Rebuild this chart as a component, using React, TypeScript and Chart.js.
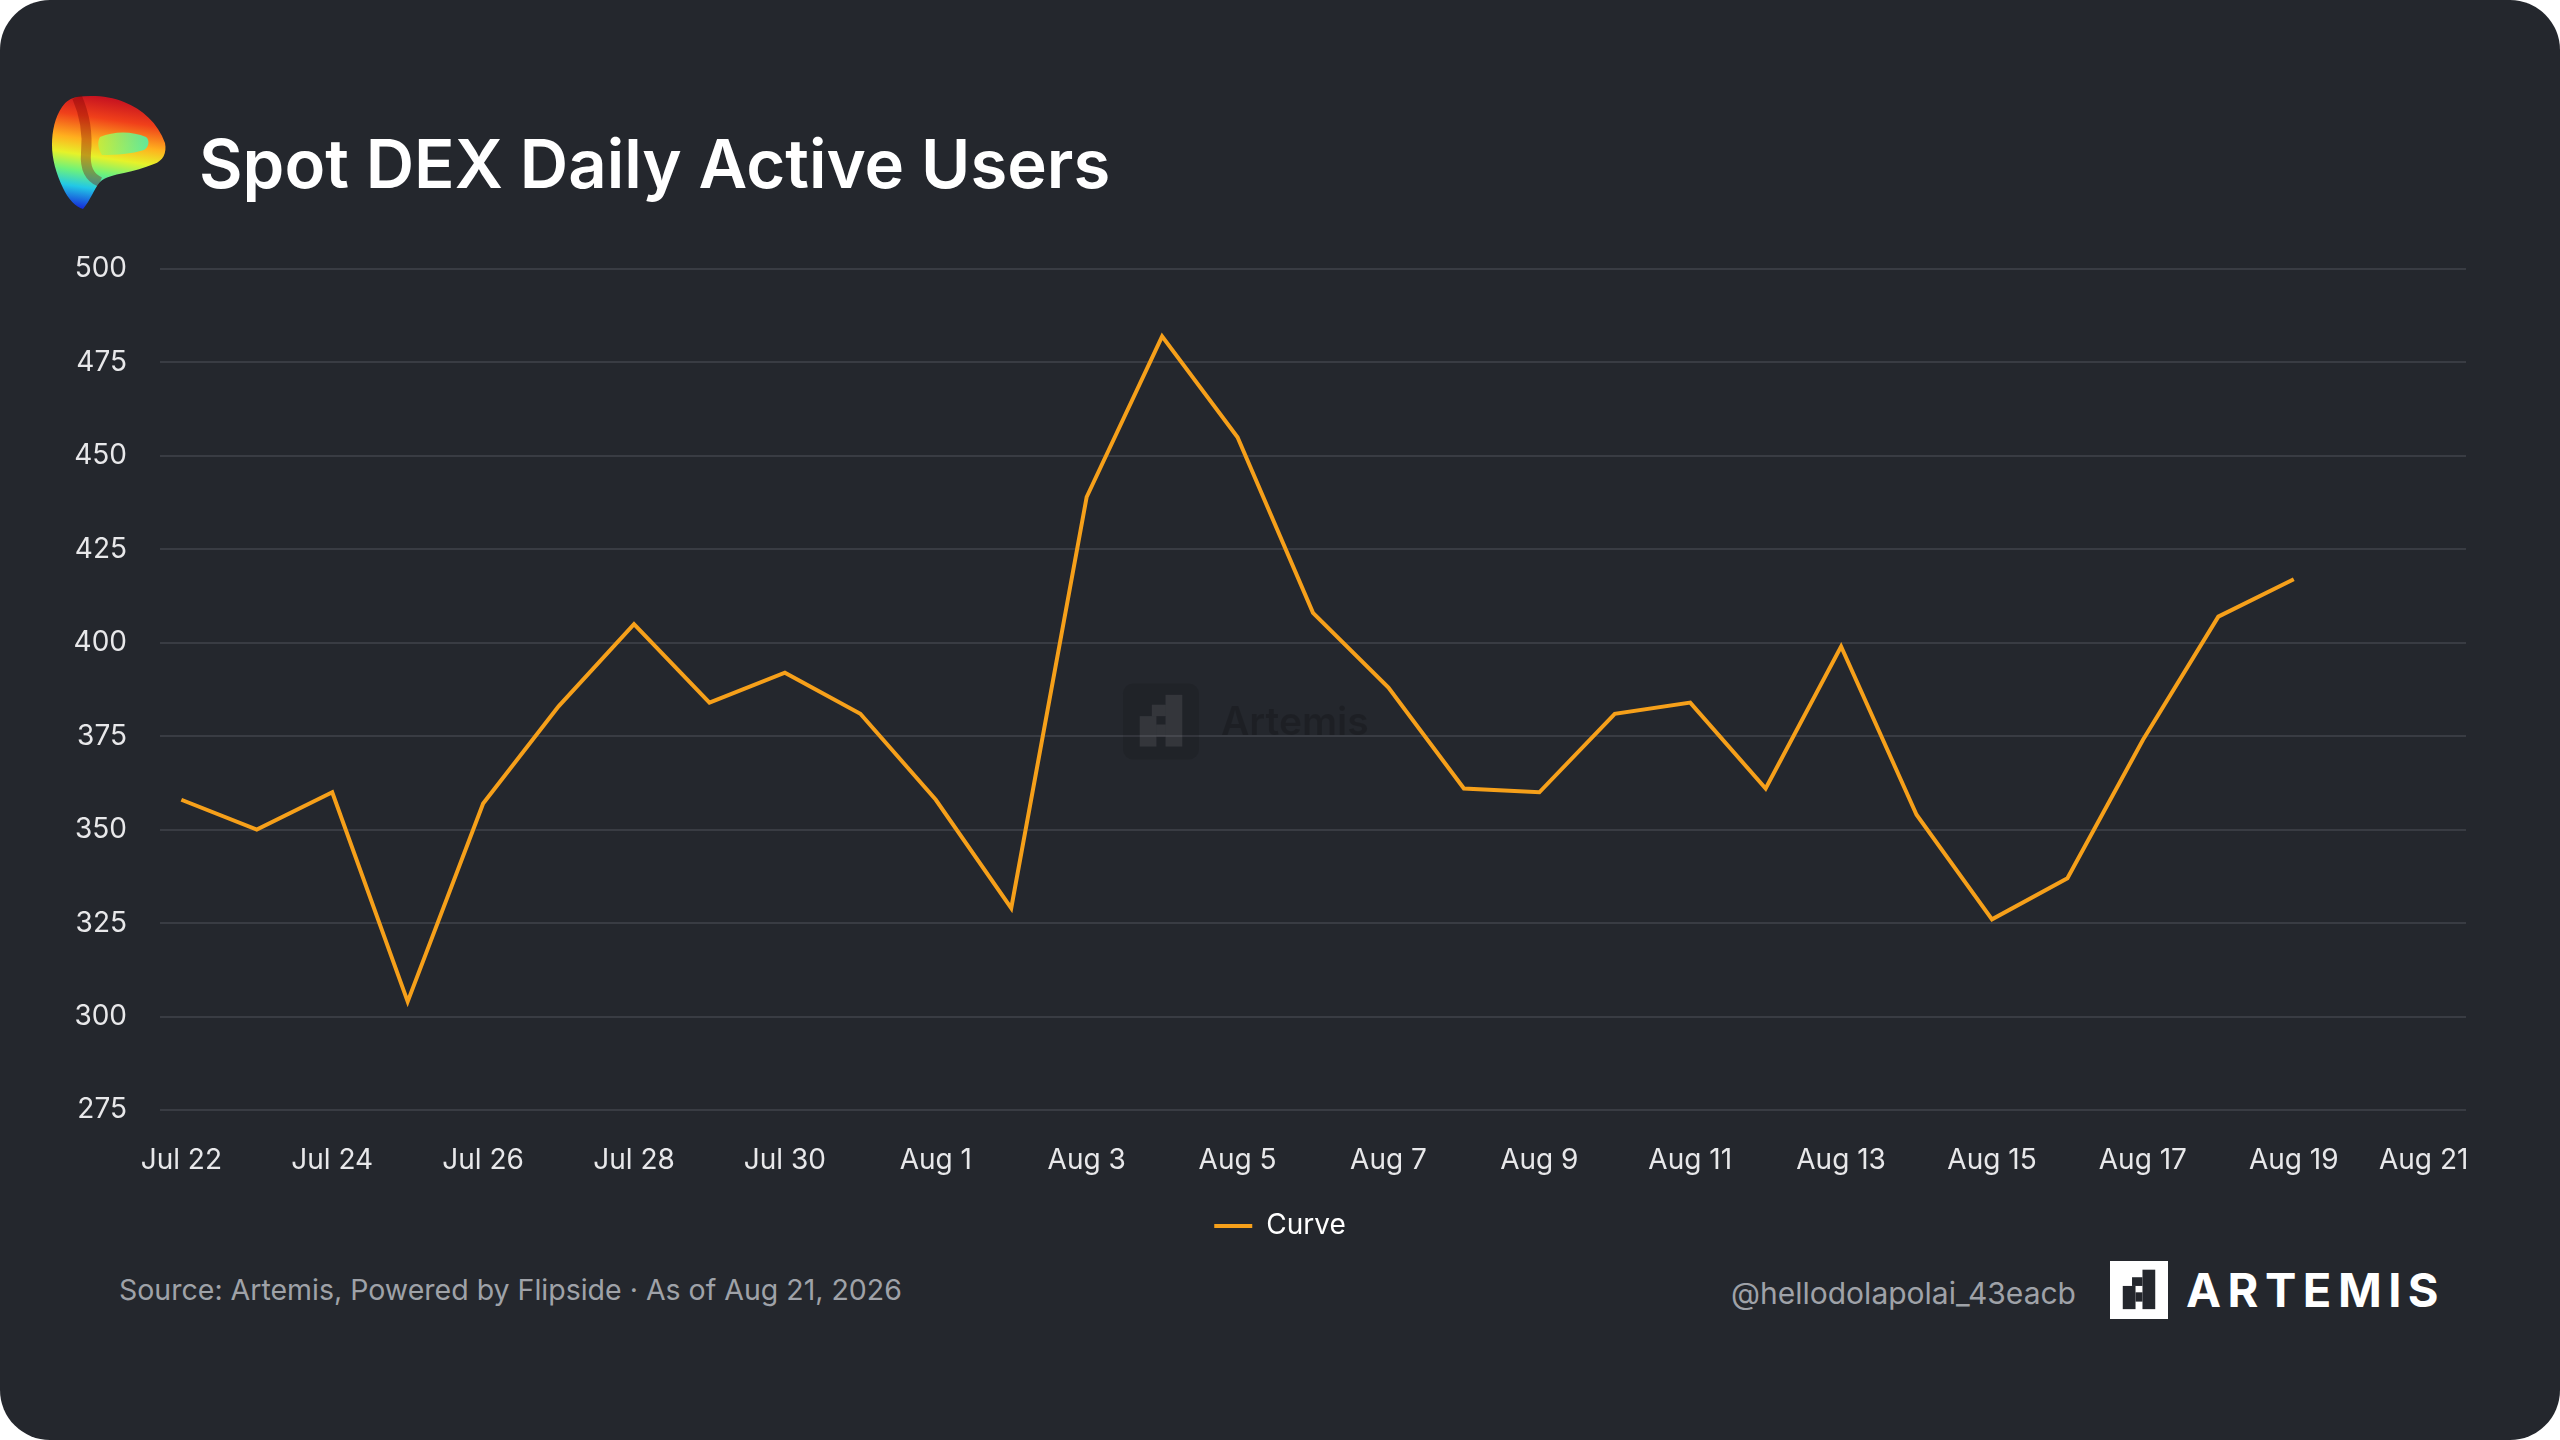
import React, { useEffect, useRef } from 'react';
import { Chart, registerables } from 'chart.js';

Chart.register(...registerables);

// ---- data ----
const dayLabels = [
  'Jul 22', 'Jul 23', 'Jul 24', 'Jul 25', 'Jul 26', 'Jul 27', 'Jul 28', 'Jul 29', 'Jul 30', 'Jul 31',
  'Aug 1', 'Aug 2', 'Aug 3', 'Aug 4', 'Aug 5', 'Aug 6', 'Aug 7', 'Aug 8', 'Aug 9', 'Aug 10',
  'Aug 11', 'Aug 12', 'Aug 13', 'Aug 14', 'Aug 15', 'Aug 16', 'Aug 17', 'Aug 18', 'Aug 19', 'Aug 20', 'Aug 21',
];
const seriesName = 'Curve';
const curveUsers = [
  358, 350, 360, 304, 357, 383, 405, 384, 392, 381,
  358, 329, 439, 482, 455, 408, 388, 361, 360, 381,
  384, 361, 399, 354, 326, 337, 374, 407, 417,
];
const xTickLabels = [
  'Jul 22', 'Jul 24', 'Jul 26', 'Jul 28', 'Jul 30', 'Aug 1', 'Aug 3', 'Aug 5',
  'Aug 7', 'Aug 9', 'Aug 11', 'Aug 13', 'Aug 15', 'Aug 17', 'Aug 19', 'Aug 21',
];
const yMin = 275;
const yMax = 500;
const yStep = 25;

const titleText = 'Spot DEX Daily Active Users';
const sourceText = 'Source: Artemis, Powered by Flipside · As of Aug 21, 2026';
const handleText = '@hellodolapolai_43eacb';

const LINE_COLOR = '#F6A01A';
const BG = '#24272d';
const FONT = 'Inter, "Noto Sans", sans-serif';

const watermarkPlugin = {
  id: 'artemisWatermark',
  beforeDatasetsDraw(chart: any) {
    const { ctx, chartArea: a } = chart;
    const x = a.left + (a.right - a.left) * 0.4176;
    const yc = a.top + (a.bottom - a.top) * 0.538;
    const s = 76;
    const u = s / 10;
    const y0 = yc - s / 2;
    ctx.save();
    ctx.fillStyle = 'rgba(0,0,0,0.10)';
    ctx.beginPath();
    (ctx as any).roundRect(x, y0, s, s, 10);
    ctx.fill();
    ctx.fillStyle = 'rgba(255,255,255,0.09)';
    const r = (x1: number, y1: number, x2: number, y2: number) =>
      ctx.fillRect(x + x1 * u, y0 + y1 * u, (x2 - x1) * u, (y2 - y1) * u);
    r(5.6, 1.5, 7.8, 8.3);
    r(2.2, 4.3, 4.4, 8.3);
    r(3.8, 2.8, 5.6, 4.3);
    r(4.4, 5.4, 5.6, 7.0);
    ctx.fillStyle = 'rgba(0,0,0,0.18)';
    ctx.font = `600 39px ${FONT}`;
    ctx.textBaseline = 'middle';
    ctx.textAlign = 'left';
    ctx.fillText('Artemis', x + s + 22, yc + 2);
    ctx.restore();
  },
};

function CurveLogo() {
  return (
    <svg width="118" height="120" viewBox="0 0 118 120" style={{ position: 'absolute', left: 50, top: 93 }}>
      <defs>
        <linearGradient id="cg" x1="0.35" y1="0" x2="0.2" y2="1">
          <stop offset="0" stopColor="#c81420" />
          <stop offset="0.18" stopColor="#f0401a" />
          <stop offset="0.38" stopColor="#ffb01e" />
          <stop offset="0.52" stopColor="#e6f22a" />
          <stop offset="0.66" stopColor="#6ef27a" />
          <stop offset="0.8" stopColor="#22c8e6" />
          <stop offset="1" stopColor="#1420d8" />
        </linearGradient>
        <linearGradient id="cg2" x1="0" y1="0" x2="1" y2="0">
          <stop offset="0" stopColor="#c0f040" />
          <stop offset="1" stopColor="#50f0a8" />
        </linearGradient>
      </defs>
      <path
        d="M27 4 C42 2 60 3 74 9 C92 16 108 30 115 50 C117 60 113 68 104 71 C94 75 84 78 74 80 C64 82 55 84 50 89 C44 96 40 108 33 116 C26 114 18 106 13 95 C6 80 2 66 2 52 C2 38 5 24 12 14 C16 8 21 5 27 4 Z"
        fill="url(#cg)"
      />
      <path
        d="M50 44 C64 38 82 38 96 44 C100 47 99 54 94 57 C82 61 66 62 52 62 C48 56 47 49 50 44 Z"
        fill="url(#cg2)"
        opacity="0.9"
      />
      <path
        d="M27 4 C34 20 38 40 36 60 C35 72 38 84 50 89"
        fill="none"
        stroke="rgba(120,0,0,0.35)"
        strokeWidth="10"
      />
    </svg>
  );
}

function ArtemisMark() {
  return (
    <svg width="58" height="58" viewBox="0 0 10 10" style={{ display: 'block' }}>
      <rect x="0" y="0" width="10" height="10" fill="#ffffff" />
      <g fill="#24272d">
        <rect x="5.6" y="1.5" width="2.2" height="6.8" />
        <rect x="2.2" y="4.3" width="2.2" height="4.0" />
        <rect x="3.8" y="2.8" width="1.8" height="1.5" />
        <rect x="4.4" y="5.4" width="1.2" height="1.6" />
      </g>
    </svg>
  );
}

export default function App() {
  const canvasRef = useRef<HTMLCanvasElement | null>(null);

  useEffect(() => {
    document.body.style.margin = '0';
    const canvas = canvasRef.current;
    if (!canvas) return;
    const points = curveUsers.map((v, i) => ({ x: i, y: v }));
    const tickPositions = xTickLabels.map((l) => dayLabels.indexOf(l));
    const lastTick = tickPositions[tickPositions.length - 1];

    const chart = new Chart(canvas, {
      type: 'line',
      data: {
        datasets: [
          {
            label: seriesName,
            data: points,
            borderColor: LINE_COLOR,
            backgroundColor: LINE_COLOR,
            borderWidth: 4,
            pointRadius: 0,
            pointHoverRadius: 0,
            tension: 0,
            fill: false,
          },
        ],
      },
      options: {
        animation: false,
        responsive: true,
        maintainAspectRatio: false,
        devicePixelRatio: 1,
        layout: { padding: { top: 69, right: 0, left: 0, bottom: 0 } },
        scales: {
          x: {
            type: 'linear',
            min: -0.283,
            max: 30.283,
            grid: { display: false, drawTicks: false },
            border: { display: false },
            afterBuildTicks: (scale: any) => {
              scale.ticks = tickPositions.map((v) => ({ value: v }));
            },
            ticks: {
              autoSkip: false,
              maxRotation: 0,
              minRotation: 0,
              padding: 37,
              color: '#e8e8ea',
              font: { family: FONT, size: 28, lineHeight: 1 },
              callback: (value: any) => {
                const lbl = dayLabels[Number(value)] ?? '';
                return Number(value) === lastTick ? lbl + '\u2002\u2002\u2002' : lbl;
              },
            },
          },
          y: {
            min: yMin,
            max: yMax,
            afterFit: (scale: any) => {
              scale.width = 160;
            },
            grid: { color: '#393c43', lineWidth: 2, drawTicks: false },
            border: { display: false },
            ticks: {
              stepSize: yStep,
              padding: 33,
              color: '#e8e8ea',
              font: { family: FONT, size: 28 },
            },
          },
          yRightSpace: {
            position: 'right',
            display: true,
            afterFit: (scale: any) => {
              scale.width = 94;
            },
            grid: { display: false, drawTicks: false },
            border: { display: false },
            ticks: { display: false },
          },
        },
        plugins: {
          tooltip: { enabled: false },
          legend: {
            display: true,
            position: 'bottom',
            labels: {
              color: '#ffffff',
              font: { family: FONT, size: 28 },
              boxWidth: 38,
              boxHeight: 4,
              padding: 0,
              generateLabels: (c: any) =>
                (Chart.defaults.plugins.legend.labels as any).generateLabels(c).map((l: any) => ({
                  ...l,
                  lineWidth: 0,
                  fillStyle: LINE_COLOR,
                  strokeStyle: LINE_COLOR,
                })),
            },
          },
        },
      } as any,
      plugins: [watermarkPlugin],
    });
    return () => chart.destroy();
  }, []);

  return (
    <div
      style={{
        position: 'absolute',
        left: 0,
        top: 0,
        width: 2560,
        height: 1440,
        background: '#ffffff',
        overflow: 'hidden',
      }}
    >
      <div
        style={{
          position: 'absolute',
          left: 0,
          top: 0,
          width: 2560,
          height: 1440,
          background: BG,
          borderRadius: 50,
          overflow: 'hidden',
          fontFamily: FONT,
        }}
      >
        <CurveLogo />
        <div
          style={{
            position: 'absolute',
            left: 199,
            top: 128,
            fontSize: 67,
            lineHeight: '72px',
            fontWeight: 600,
            color: '#ffffff',
            whiteSpace: 'nowrap',
          }}
        >
          {titleText}
        </div>
        <div style={{ position: 'absolute', left: 0, top: 200, width: 2560, height: 1050 }}>
          <canvas ref={canvasRef} style={{ width: '100%', height: '100%' }} />
        </div>
        <div
          style={{
            position: 'absolute',
            left: 119,
            top: 1270,
            fontSize: 28.5,
            lineHeight: '40px',
            color: '#9fa2a8',
            whiteSpace: 'nowrap',
          }}
        >
          {sourceText}
        </div>
        <div
          style={{
            position: 'absolute',
            right: 2560 - 2076,
            top: 1273,
            fontSize: 30,
            lineHeight: '40px',
            color: '#9fa2a8',
            whiteSpace: 'nowrap',
          }}
        >
          {handleText}
        </div>
        <div style={{ position: 'absolute', left: 2110, top: 1261 }}>
          <ArtemisMark />
        </div>
        <div
          style={{
            position: 'absolute',
            left: 2186,
            top: 1262,
            fontSize: 47,
            lineHeight: '56px',
            fontWeight: 700,
            letterSpacing: 6.5,
            color: '#ffffff',
            whiteSpace: 'nowrap',
          }}
        >
          ARTEMIS
        </div>
      </div>
    </div>
  );
}
